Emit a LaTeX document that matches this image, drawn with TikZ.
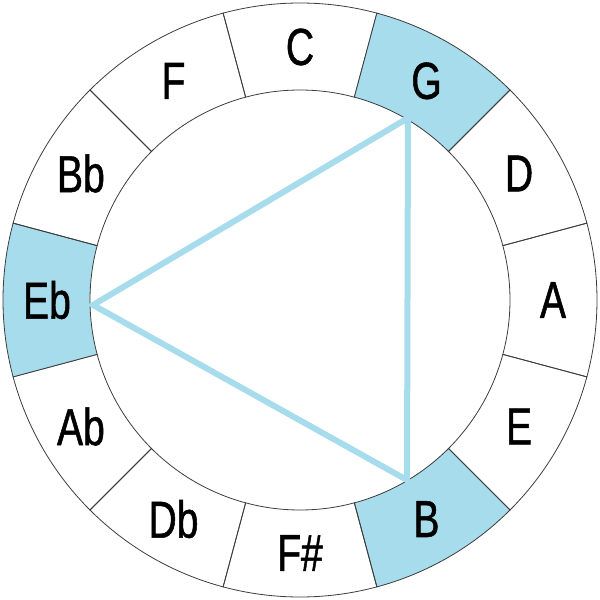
\documentclass[tikz,border=0pt]{standalone}
\usepackage{fontspec}
\setmainfont{Liberation Sans}[FakeStretch=0.75,FakeBold=1]
\definecolor{hl}{RGB}{166,220,236}
\definecolor{edge}{RGB}{60,60,60}
\begin{document}
\begin{tikzpicture}[x=1pt,y=1pt,
  seg/.style={draw=edge,line width=0.8pt},
  hlseg/.style={seg,fill=hl},
  lbl/.style={font=\fontsize{52}{52}\selectfont,text=black,inner sep=0pt},
  tri/.style={draw=hl,line width=6pt,line join=miter}]
\useasboundingbox (-300,-300) rectangle (300,300);
\def\Ro{297}\def\Ri{210}\def\Rl{253}
% segments
\foreach \i/\name/\st in {0/C/seg,1/G/hlseg,2/D/seg,3/A/seg,4/E/seg,5/B/hlseg,6/F\#/seg,7/Db/seg,8/Ab/seg,9/Eb/hlseg,10/Bb/seg,11/F/seg}{
  \pgfmathsetmacro\a{90-30*\i}
  \pgfmathsetmacro\s{\a+15}
  \pgfmathsetmacro\e{\a-15}
  \path[\st] (\s:\Ro) arc[start angle=\s,end angle=\e,radius=\Ro] -- (\e:\Ri) arc[start angle=\e,end angle=\s,radius=\Ri] -- cycle;
  \node[lbl] (n\i) at (\a:\Rl) {\name};
}
% triangle
\coordinate (tG) at (108,182);
\coordinate (tB) at (107,-180);
\coordinate (tEb) at (-207,-5);
\draw[tri] (tG) -- (tB) -- (tEb) -- cycle;
\end{tikzpicture}
\end{document}
